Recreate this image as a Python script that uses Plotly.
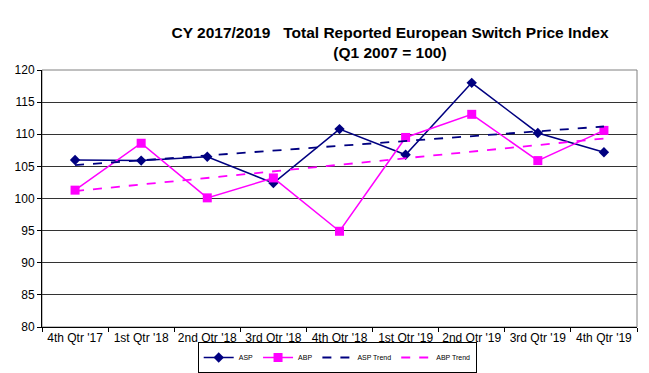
import numpy as np
import plotly.graph_objects as go

categories = ["4th Qtr '17", "1st Qtr '18", "2nd Qtr '18", "3rd Qtr '18", "4th Qtr '18",
              "1st Qtr '19", "2nd Qtr '19", "3rd Qtr '19", "4th Qtr '19"]
asp = [106.0, 105.9, 106.5, 102.4, 110.8, 106.8, 118.0, 110.2, 107.2]
abp = [101.3, 108.6, 100.1, 103.2, 94.9, 109.5, 113.1, 105.9, 110.6]
y_ticks = [80, 85, 90, 95, 100, 105, 110, 115, 120]

idx = np.arange(len(categories))
asp_fit = np.polyval(np.polyfit(idx, asp, 1), idx)
abp_fit = np.polyval(np.polyfit(idx, abp, 1), idx)

NAVY = "#000080"
MAG = "#FF00FF"

fig = go.Figure()
fig.add_trace(go.Scatter(x=categories, y=asp, name="ASP", mode="lines+markers",
                         line=dict(color=NAVY, width=1.5),
                         marker=dict(symbol="diamond", size=8, color=NAVY)))
fig.add_trace(go.Scatter(x=categories, y=abp, name="ABP", mode="lines+markers",
                         line=dict(color=MAG, width=1.5),
                         marker=dict(symbol="square", size=9, color=MAG)))
fig.add_trace(go.Scatter(x=categories, y=asp_fit, name="ASP Trend", mode="lines",
                         line=dict(color=NAVY, width=1.8, dash="dash")))
fig.add_trace(go.Scatter(x=categories, y=abp_fit, name="ABP Trend", mode="lines",
                         line=dict(color=MAG, width=1.8, dash="dash")))

fig.update_layout(
    width=649, height=373,
    margin=dict(l=42, r=12, t=70, b=46, autoexpand=False),
    paper_bgcolor="white", plot_bgcolor="white",
    font=dict(family="Arial, Liberation Sans, sans-serif", color="black", size=12),
    title=dict(text="<b>CY 2017/2019   Total Reported European Switch Price Index<br>(Q1 2007 = 100)</b>",
               x=390/649, xanchor="center", y=1 - 38/373, yanchor="top",
               font=dict(size=15.5, color="black")),
    showlegend=True,
    legend=dict(orientation="h", x=322/649, xanchor="center",
                yref="container", y=1 - 342/373, yanchor="top",
                bordercolor="black", borderwidth=1, font=dict(size=7),
                itemwidth=30, tracegroupgap=0),
)
fig.update_xaxes(type="category", range=[-0.5, len(categories) - 0.5],
                 tickson="boundaries", ticks="outside", ticklen=4, tickcolor="black",
                 showline=True, linecolor="black", linewidth=1, mirror=False,
                 showgrid=False, tickfont=dict(size=12), tickangle=0)
fig.update_yaxes(range=[80, 120], tickvals=y_ticks, ticks="outside", ticklen=4,
                 tickcolor="black", showline=True, linecolor="black", linewidth=1,
                 showgrid=True, gridcolor="#333333", gridwidth=1, zeroline=False,
                 tickfont=dict(size=12))
fig.add_shape(type="rect", xref="paper", yref="paper", x0=0, x1=1, y0=0, y1=1,
              line=dict(color="#808080", width=1), layer="below")
fig.write_html("out.html", config={"displayModeBar": False},
               post_script="document.body.style.margin='0';document.body.style.overflow='hidden';")
